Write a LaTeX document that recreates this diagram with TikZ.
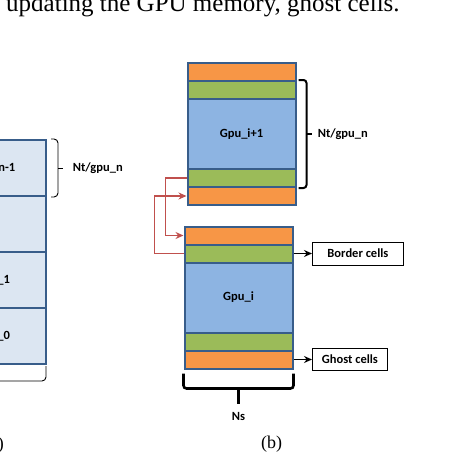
\documentclass[tikz,border=0pt]{standalone}
\usepackage{fontspec}
\setmainfont{Liberation Serif}
\newfontfamily\labelfont{Carlito}
\usetikzlibrary{arrows.meta}
\definecolor{ghostorange}{HTML}{F79646}
\definecolor{bordergreen}{HTML}{9BBB59}
\definecolor{gpublue}{HTML}{8DB4E2}
\definecolor{gpuline}{HTML}{385D8A}
\definecolor{gpupale}{HTML}{DCE6F2}
\definecolor{swapred}{HTML}{C0504D}

\begin{document}
\begin{tikzpicture}[x=1pt,y=-1pt,
    lbl/.style={font=\labelfont\bfseries\fontsize{12.5}{14}\selectfont},
    cell/.style={lbl,draw=gpuline,line width=2pt,inner sep=0pt,minimum width=108pt},
    ghost/.style={cell,fill=ghostorange,minimum height=18pt},
    bord/.style={cell,fill=bordergreen,minimum height=18pt},
    core/.style={cell,fill=gpublue,minimum height=70pt},
    part/.style={cell,fill=gpupale,minimum width=106pt,minimum height=56pt},
    tag/.style={lbl,draw,line width=.9pt,anchor=west,inner sep=0pt},
    swap/.style={draw=swapred,line width=1.8pt,-{Stealth[length=8pt,width=7pt]}},
    toTag/.style={line width=1.8pt,-{Stealth[length=8pt,width=7pt]}},
    bracket/.style={line width=2pt,rounded corners=3pt},
    thinbracket/.style={line width=.9pt,rounded corners=4pt}]
    \clip (0,0) rectangle (474,474);
    \node[anchor=base west,inner sep=0pt,font=\fontsize{25}{28}\selectfont] (caption) at (6,11) {updating the GPU memory, ghost cells.};
    % (a) =====================================================
    \node[part] (P3) at (-7,168) {Gpu\_n-1};
    \node[part] (P2) at (-7,224) {};
    \node[part] (P1) at (-7,280) {Gpu\_1};
    \node[part] (P0) at (-7,336) {Gpu\_0};
    \draw[thinbracket] ([xshift=4pt]P3.north east) -| ([xshift=11pt]P3.east) |- ([xshift=4pt]P3.south east);
    \draw[thinbracket] ([xshift=11pt]P3.east) -- ++(5,0) node[lbl,right=6pt] (NtLeft) {Nt/gpu\_n};
    \draw[thinbracket] ([xshift=-1pt,yshift=-1pt]P0.south east) |- ([yshift=-16pt]P0.south) -| ([xshift=1pt,yshift=-1pt]P0.south west);
    \draw[thinbracket] ([yshift=-16pt]P0.south) -- ++(0,6);
    \node[anchor=east,inner sep=0pt,font=\fontsize{18}{20}\selectfont] (capA) at (4,445) {(a)};
    % (b) GPU i+1 =============================================
    \node[ghost] (TG1) at (241.5,72)  {};
    \node[bord]  (TB1) at (241.5,90)  {};
    \node[core]  (TI)  at (241.5,134) {Gpu\_i+1};
    \node[bord]  (TB2) at (241.5,178) {};
    \node[ghost] (TG2) at (241.5,196) {};
    % (b) GPU i ===============================================
    \node[ghost] (BG1) at (238.5,235.5) {};
    \node[bord]  (BB1) at (238.5,253.5) {};
    \node[core]  (BI)  at (238.5,297.5) {Gpu\_i};
    \node[bord]  (BB2) at (238.5,341.5) {};
    \node[ghost] (BG2) at (238.5,359.5) {};
    % exchange of border and ghost cells
    \draw[swap] (TB2.west) -- ++(-21,0) |- (BG1.west);
    \draw[swap] (BB1.west) -- ++(-29,0) |- (TG2.west);
    % Labels
    \node[tag,minimum width=91pt,minimum height=23pt] (Lborder) at (312,253.5) {Border cells};
    \node[tag,minimum width=75pt,minimum height=22pt] (Lghost)  at (312,359.5) {Ghost cells};
    \draw[toTag] (BB1.east) -- (Lborder.west);
    \draw[toTag] (BG2.east) -- (Lghost.west);
    % Braces
    \draw[bracket] ([xshift=2pt]TB1.north east) -| ([xshift=10pt]TI.east) |- ([xshift=2pt]TB2.south east);
    \draw[bracket] ([xshift=10pt]TI.east) -- ++(5,0) node[lbl,right=2pt] (NtRight) {Nt/gpu\_n};
    \draw[bracket,line width=2.6pt] ([yshift=-4pt]BG2.south west) |- ([yshift=-19pt]BG2.south) -| ([yshift=-4pt]BG2.south east);
    \draw[bracket,line width=2.6pt] ([yshift=-19pt]BG2.south) -- ++(0,15) node[lbl,below=4pt] (Ns) {Ns};
    \node[font=\fontsize{18}{20}\selectfont] (capB) at (271.5,444.5) {(b)};
\end{tikzpicture}
\end{document}
